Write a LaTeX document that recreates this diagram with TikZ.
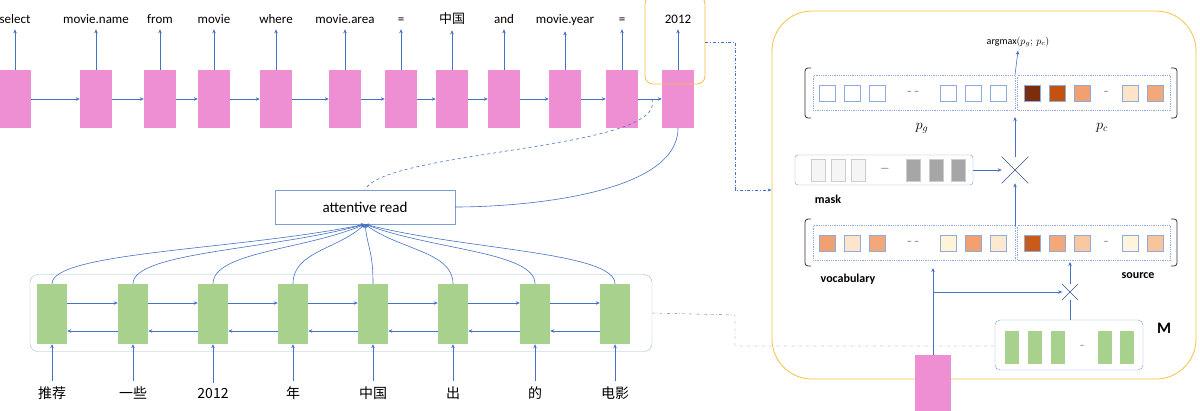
\documentclass[tikz,border=0pt]{standalone}
\usepackage{fontspec}
\setmainfont{Carlito}
\newfontfamily\cjk{Noto Sans CJK SC}
\usetikzlibrary{arrows.meta,shapes.misc,calc}
\definecolor{ln}{HTML}{4472C4}
\definecolor{pk}{HTML}{EE8FD4}
\definecolor{gr}{HTML}{A9D18E}
\definecolor{yl}{HTML}{F5C242}
\tikzset{
 pinkbox/.style={fill=pk,minimum width=32pt,minimum height=58pt,inner sep=0},
 greenbox/.style={fill=gr,minimum width=30pt,minimum height=60pt,inner sep=0},
 arr/.style={ln,semithick,-{Stealth[length=4pt,width=3.5pt]}},
 lnn/.style={ln,semithick},
 toptxt/.style={font=\fontsize{13}{13}\selectfont,inner sep=1pt},
 bottxt/.style={font=\cjk\fontsize{14}{14}\selectfont,inner sep=1pt},
 cell/.style={draw=ln!60,minimum size=16pt,inner sep=0},
 gcell/.style={draw=gray!40,minimum width=14pt,minimum height=22pt,inner sep=0},
 mbar/.style={fill=gr,minimum width=14pt,minimum height=33pt,inner sep=0},
 otimes/.style={circle,draw=ln!70!black,semithick,cross out,inner sep=0},
 lab/.style={font=\fontsize{12}{12}\selectfont\bfseries,inner sep=1pt},
 dotbox/.style={draw=ln!60,densely dotted,thick},
 brk/.style={thick,black!80,rounded corners=3pt}
}
\begin{document}
\begin{tikzpicture}[x=1pt,y=-1pt]
\useasboundingbox (0,0) rectangle (1200,410);
% ---------- decoder ----------
\foreach \i/\x/\t in {1/15/select,2/96/movie.name,3/160/from,4/214/movie,5/276/where,6/345/movie.area,7/401/=,8/452/{\cjk 中国},9/504/and,10/565/movie.year,11/622/=,12/678/2012}{
  \node[pinkbox] (p\i) at (\x,99) {};
  \node[toptxt,anchor=base] (t\i) at (\x,23) {\t};
  \draw[arr,shorten >=5pt] (p\i.north) -- (t\i.south);
}
\foreach \a/\b in {1/2,2/3,3/4,4/5,5/6,6/7,7/8,8/9,9/10,10/11,11/12}{
  \draw[arr] (p\a) -- (p\b);
}
\node[draw=yl,thick,rounded corners=8pt,minimum width=60pt,minimum height=88pt] (sel) at (675,40) {};
% ---------- attentive read ----------
\node[draw=ln!70,minimum width=180pt,minimum height=34pt,font=\fontsize{15}{15}\selectfont] (att) at (365,207) {attentive read};
\coordinate (c1) at (652,99);
\draw[ln,semithick,dashed] (c1) .. controls (668,150) and (385,150) .. (att.north);
\draw[lnn] (p12.south) .. controls (678,195) and (520,207) .. (att.east);
% ---------- encoder ----------
\node[draw=ln!50,rounded corners=8pt,minimum width=622pt,minimum height=77pt] (enc) at (341,313) {};
\foreach \i/\x/\w in {1/52/推荐,2/133/一些,3/213/2012,4/293/年,5/373/中国,6/453/出,7/535/的,8/615/电影}{
  \node[greenbox] (g\i) at (\x,314) {};
  \node[bottxt,anchor=base] (w\i) at (\x,398) {\w};
  \draw[arr,shorten <=4pt] (w\i.north) -- (g\i.south);
  \draw[arr] (g\i.north) .. controls ($(g\i.north)+(0,-32)$) and ($(365,250)!0.4!(\x,250)$) .. (att.south);
}
\foreach \a/\b in {1/2,2/3,3/4,4/5,5/6,6/7,7/8}{
  \draw[arr] ([yshift=-17pt]g\b.west) -- ([yshift=-17pt]g\a.east);
  \draw[arr] ([yshift=11pt]g\a.east) -- ([yshift=11pt]g\b.west);
}
% ---------- right panel ----------
\node[draw=yl,thick,rounded corners=40pt,minimum width=424pt,minimum height=368pt] (panel) at (984,195) {};
\coordinate (d1) at (735,42);
\coordinate (d2) at (735,190);
\draw[ln,semithick,dash dot,-{Stealth[length=4pt]}] (sel.east |- d1) -- (d1) -- (d2) -- (panel.west |- d2);
% top vector
\node[dotbox,minimum width=202pt,minimum height=35pt] (pgv) at (914,93) {};
\node[dotbox,minimum width=153pt,minimum height=35pt] (pcv) at (1094,93) {};
\draw[brk] (811,68) -- (805,68) -- (805,118) -- (811,118);
\draw[brk] (1171,68) -- (1177,68) -- (1177,118) -- (1171,118);
\foreach \x in {827,852,877,948,973,998}{\node[cell] at (\x,93) {};}
\node[text=black!70] at (913,93) {-- --};
\foreach \x/\c in {1032/7A2E0A,1057/C2520F,1082/F2A070,1130/FDE3C8,1155/F2A878}{\definecolor{tmpc}{HTML}{\c}\node[cell,fill=tmpc] at (\x,93) {};}
\node[text=black!70] at (1106,93) {--};
\node[font=\fontsize{14}{14}\selectfont] (pglab) at (922,128) {$p_g$};
\node[font=\fontsize{14}{14}\selectfont] (pclab) at (1102,128) {$p_c$};
\node[font=\fontsize{10}{10}\selectfont] (argm) at (1018,42) {argmax$(p_g;\,p_c)$};
\draw[arr] (1015,75) -- (argm.south);
% mask
\node[draw=ln!70,rounded corners=3pt,minimum width=178pt,minimum height=30pt] (mask) at (884,170) {};
\foreach \x/\c in {818/gray!8,838/gray!8,858/gray!8,913/gray!70,936/gray!70,958/gray!70}{\node[gcell,fill=\c] at (\x,170) {};}
\node[text=black!60] at (885,170) {---};
\node[lab] at (828,199) {mask};
\node[otimes,minimum size=26pt] (ox) at (1015,170) {};
\draw[arr] (mask.east) -- (ox.west);
\draw[arr] (ox.north) -- (1015,117);
% lower vector
\node[dotbox,minimum width=202pt,minimum height=35pt] (vv) at (914,243) {};
\node[dotbox,minimum width=153pt,minimum height=35pt] (sv) at (1094,243) {};
\draw[brk] (811,219) -- (805,219) -- (805,266) -- (811,266);
\draw[brk] (1171,219) -- (1177,219) -- (1177,266) -- (1171,266);
\foreach \x/\c in {827/F2A070,852/FDE5CC,877/F2A878,948/FFF3D8,973/F2A070,998/FDE8D0}{\definecolor{tmpc}{HTML}{\c}\node[cell,fill=tmpc] at (\x,243) {};}
\node[text=black!70] at (913,243) {-- --};
\foreach \x/\c in {1032/C85A1A,1057/F2A878,1082/F8C8A0,1130/FFF5DC,1155/F8C49A}{\definecolor{tmpc}{HTML}{\c}\node[cell,fill=tmpc] at (\x,243) {};}
\node[text=black!70] at (1106,243) {--};
\node[lab] at (848,279) {vocabulary};
\node[lab] at (1138,276) {source};
\draw[arr] (1015,226) -- (ox.south);
% M
\node[draw=ln!70,rounded corners=5pt,minimum width=148pt,minimum height=50pt] (Mbox) at (1069,345) {};
\foreach \x in {1012,1035,1058,1105,1127}{\node[mbar] at (\x,347) {};}
\node[text=black!60] at (1082,347) {--};
\node[font=\fontsize{16}{16}\selectfont\bfseries] at (1164,328) {M};
\node[otimes,minimum size=15pt] (os) at (1070,292) {};
\draw[lnn] (Mbox.north -| os) -- (os.south);
\draw[arr] (os.north) -- (1070,262);
% decoder state box
\node[pinkbox,minimum width=36pt,minimum height=60pt] (pd) at (933,385) {};
\coordinate (jn) at (933,292);
\draw[arr] (pd.north) -- (933,268);
\draw[arr] (jn) -- (os.west);
\draw[gray!70!ln,dash dot] (enc.east) -- (735,315) -- (735,346) -- (Mbox.west |- 0,346);
\end{tikzpicture}
\end{document}
